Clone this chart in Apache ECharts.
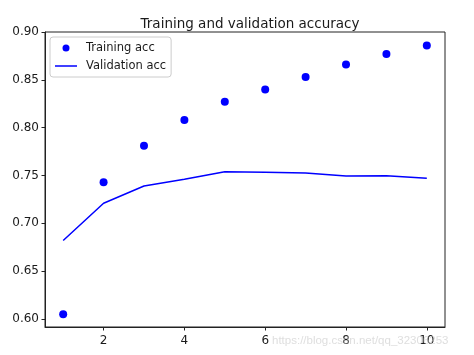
<!DOCTYPE html>
<html>
<head>
<meta charset="utf-8">
<script src="https://cdn.jsdelivr.net/npm/echarts@6/dist/echarts.min.js"></script>
<style>
html,body{margin:0;padding:0;background:#fff;}
#chart{width:474px;height:355px;}
</style>
</head>
<body>
<div id="chart"></div>
<script>
const epochs = [1, 2, 3, 4, 5, 6, 7, 8, 9, 10];
const trainingAcc = [0.605, 0.743, 0.781, 0.808, 0.827, 0.840, 0.853, 0.866, 0.877, 0.886];
const validationAcc = [0.682, 0.721, 0.739, 0.746, 0.754, 0.7535, 0.7525, 0.7495, 0.7498, 0.7472];
const xTicks = [2, 4, 6, 8, 10];
const yTicks = [0.60, 0.65, 0.70, 0.75, 0.80, 0.85, 0.90];

const FONT = 'DejaVu Sans';
const TXT = '#1a1a1a';

const chart = echarts.init(document.getElementById('chart'), null, {renderer: 'canvas'});
chart.setOption({
  animation: false,
  backgroundColor: '#fff',
  title: {
    text: 'Training and validation accuracy',
    left: 245, top: 12, textAlign: 'center',
    textStyle: {fontFamily: FONT, fontSize: 13.5, fontWeight: 'normal', color: TXT}
  },
  legend: {
    orient: 'vertical', left: 50, top: 37,
    itemWidth: 22, itemHeight: 7, itemGap: 4,
    symbolKeepAspect: true,
    padding: [4, 5, 4, 5],
    borderColor: '#cccccc', borderWidth: 1, borderRadius: 3,
    backgroundColor: '#fff',
    textStyle: {fontFamily: FONT, fontSize: 11.5, color: TXT, padding: [0, 0, 0, 4], lineHeight: 14},
    data: [
      {name: 'Training acc', icon: 'circle'},
      {name: 'Validation acc', icon: 'path://M0,0 L22,0 L22,1.5 L0,1.5 Z'}
    ]
  },
  grid: {
    left: 45, right: 29, top: 32, bottom: 28,
    show: true, borderColor: '#222', borderWidth: 1, backgroundColor: 'transparent'
  },
  xAxis: {
    type: 'value', min: 0.55, max: 10.45,
    splitLine: {show: false},
    axisLine: {show: true, onZero: false, lineStyle: {color: '#222', width: 1}},
    axisTick: {show: true, inside: false, length: 3.5, customValues: xTicks, lineStyle: {color: '#222'}},
    axisLabel: {show: true, margin: 8, customValues: xTicks, fontFamily: FONT, fontSize: 12, color: TXT,
      formatter: v => String(v)}
  },
  yAxis: {
    type: 'value', min: 0.5916, max: 0.9,
    splitLine: {show: false},
    axisLine: {show: true, onZero: false, lineStyle: {color: '#222', width: 1}},
    axisTick: {show: true, inside: false, length: 3.5, customValues: yTicks, lineStyle: {color: '#222'}},
    axisLabel: {show: true, margin: 6, customValues: yTicks, fontFamily: FONT, fontSize: 12, color: TXT,
      formatter: v => v.toFixed(2)}
  },
  graphic: [{
    type: 'text', left: 272, top: 335, silent: true, z: 100,
    style: {text: 'https://blog.csdn.net/qq_32306253', fill: 'rgba(200,200,200,0.6)',
      font: '11.5px "Liberation Sans", Arial, sans-serif'}
  }],
  series: [
    {
      name: 'Training acc', type: 'scatter',
      data: epochs.map((e, i) => [e, trainingAcc[i]]),
      symbol: 'circle', symbolSize: 8,
      itemStyle: {color: '#0000ff', opacity: 1}
    },
    {
      name: 'Validation acc', type: 'line',
      data: epochs.map((e, i) => [e, validationAcc[i]]),
      symbol: 'none', showSymbol: false,
      lineStyle: {color: '#0000ff', width: 1.5},
      itemStyle: {color: '#0000ff'}
    }
  ]
});
</script>
</body>
</html>
